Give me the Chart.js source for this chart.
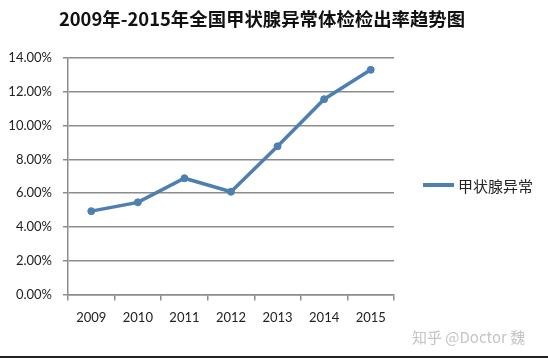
<!DOCTYPE html>
<html>
<head>
<meta charset="utf-8">
<script src="https://cdn.jsdelivr.net/npm/chart.js@4.4.1/dist/chart.umd.min.js"></script>
<style>
  html, body { margin: 0; padding: 0; background: #fff; }
  #wrap { position: relative; width: 548px; height: 358px; overflow: hidden; background: #fff; }
  #title { position: absolute; left: 0; top: 5px; width: 524px; text-align: center;
           font-family: "Noto Sans CJK SC", sans-serif; font-weight: bold; font-size: 18.4px; color: #111; line-height: 26px; }
  #legend { position: absolute; left: 423px; top: 175px; height: 20px; display: flex; align-items: center;
            font-family: "Noto Sans CJK SC", sans-serif; font-size: 15px; color: #222; }
  #legend .sw { width: 31px; height: 3.5px; margin-right: 4px; }
  #mark { position: absolute; left: 412px; top: 326px; font-family: "Noto Sans CJK SC", sans-serif;
          font-size: 15px; color: #c4c4c4; }
  #edge { position: absolute; left: 0; bottom: 0; width: 548px; height: 2px; background: #222; }
  canvas { position: absolute; left: 0; top: 0; }
</style>
</head>
<body>
<div id="wrap">
  <canvas id="c" width="548" height="358"></canvas>
  <div id="title">2009年-2015年全国甲状腺异常体检检出率趋势图</div>
  <div id="legend"><span class="sw" id="sw"></span><span id="lt"></span></div>
  <div id="mark">知乎 @Doctor 魏</div>
  <div id="edge"></div>
</div>
<script>
const years = ['2009', '2010', '2011', '2012', '2013', '2014', '2015'];
const seriesName = '甲状腺异常';
const rates = [4.93, 5.45, 6.88, 6.08, 8.77, 11.56, 13.30];
const yTicks = [0, 2, 4, 6, 8, 10, 12, 14];

const lineColor = '#4d7fb0';
const gridColor = '#8c8c8c';

document.getElementById('sw').style.background = lineColor;
document.getElementById('lt').textContent = seriesName;

new Chart(document.getElementById('c'), {
  type: 'line',
  data: {
    labels: years,
    datasets: [{
      label: seriesName,
      data: rates,
      borderColor: lineColor,
      backgroundColor: lineColor,
      borderWidth: 3.5,
      pointRadius: 3.5,
      pointBackgroundColor: lineColor,
      pointBorderColor: lineColor,
      pointBorderWidth: 1,
      tension: 0
    }]
  },
  options: {
    responsive: false,
    animation: false,
    layout: { padding: { top: 58, bottom: 22, left: 0, right: 154 } },
    plugins: {
      title: { display: false },
      tooltip: { enabled: false },
      legend: { display: false }
    },
    scales: {
      x: {
        offset: true,
        grid: { display: true, drawOnChartArea: false, drawTicks: true, tickLength: 6, offset: true, color: gridColor, lineWidth: 1.5 },
        border: { display: true, color: gridColor, width: 1.5 },
        ticks: { color: '#222', padding: 10, font: { family: 'Lato, sans-serif', size: 13 } }
      },
      y: {
        min: 0, max: 14,
        afterBuildTicks: s => { s.ticks = yTicks.map(v => ({ value: v })); },
        afterFit: s => { s.width = 68; },
        grid: { color: gridColor, lineWidth: 1.5, drawTicks: true, tickLength: 5 },
        border: { display: true, color: gridColor, width: 1.5 },
        ticks: { color: '#222', padding: 11, font: { family: 'Lato, sans-serif', size: 13 },
                 callback: v => Number(v).toFixed(2) + '%' }
      }
    }
  }
});
</script>
</body>
</html>
